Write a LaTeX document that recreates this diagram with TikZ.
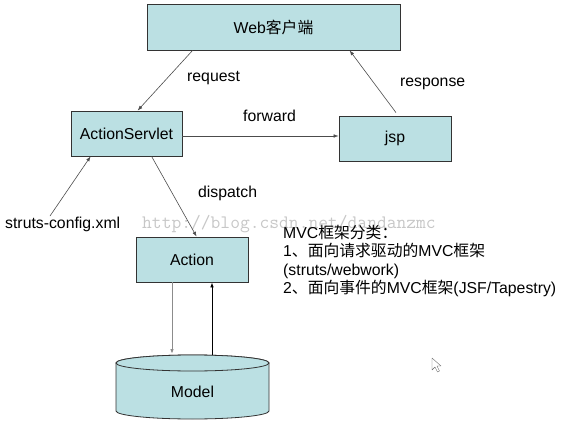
\documentclass[tikz,border=0pt]{standalone}
\usepackage{fontspec}
\setmainfont{Liberation Sans}
\newfontfamily\cjk{Noto Sans CJK SC}
\usetikzlibrary{arrows.meta,calc}
\definecolor{boxfill}{HTML}{BBE0E3}
\begin{document}
\begin{tikzpicture}[x=1pt,y=-1pt,
  font=\fontsize{15.8}{18.3}\selectfont,
  box/.style={draw=black!80,line width=0.8pt,fill=boxfill,inner sep=0pt},
  arr/.style={draw=black!70,line width=0.6pt,-{Latex[length=5pt,width=3.6pt]}},
  lbl/.style={inner sep=0pt,anchor=base west}]
\useasboundingbox (0,0) rectangle (563,423);

% boxes
\node[box,minimum width=253pt,minimum height=46pt] (web) at (273.5,27) {Web{\cjk 客户端}};
\node[box,minimum width=111pt,minimum height=45pt] (servlet) at (126.5,133.5) {ActionServlet};
\node[box,minimum width=112pt,minimum height=45pt] (jsp) at (395,138.5) {jsp};
\node[box,minimum width=112pt,minimum height=45pt] (action) at (192,259.5) {Action};

% model cylinder
\path[box] (116,363) -- (116,411)
  arc[start angle=180,end angle=360,x radius=76.5pt,y radius=8pt]
  -- (269,363)
  arc[start angle=0,end angle=180,x radius=76.5pt,y radius=8pt] -- cycle;
\draw[box] (192.5,363) ellipse[x radius=76.5pt,y radius=8pt];
\node[inner sep=0pt] (model) at (192.5,392) {Model};
\coordinate (mA) at (172,354);
\coordinate (mB) at (212,355);

% labels
\node[lbl] (lreq) at (187,81.5) {request};
\node[lbl] (lresp) at (400,86.5) {response};
\node[lbl] (lfwd) at (243,121.5) {forward};
\node[lbl] (ldisp) at (198,197.5) {dispatch};
\node[lbl] (struts) at (5,228.5) {struts-config.xml};
\coordinate (sc) at (50,216);

% watermark
\node[lbl,text=black!22,font=\ttfamily\fontsize{19}{19}\selectfont] (wm) at (142,228.5) {http://blog.csdn.net/dandanzmc};

% MVC text
\node[lbl] (mvc1) at (283,238.5) {MVC{\cjk 框架分类：}};
\node[lbl] (mvc2) at (283,256.8) {1{\cjk 、面向请求驱动的}MVC{\cjk 框架}};
\node[lbl] (mvc3) at (283,275.1) {(struts/webwork)};
\node[lbl] (mvc4) at (283,293.4) {2{\cjk 、面向事件的}MVC{\cjk 框架}(JSF/Tapestry)};

% connectors
\draw[arr] ($(web.south west)+(46,0)$) -- ($(servlet.north west)+(67,0)$);
\draw[arr] ($(jsp.north)+(1,-3)$) -- ($(web.south west)+(203,0)$);
\draw[arr] ($(servlet.east)+(0,2.5)$) -- ($(jsp.west)+(0,-2.5)$);
\draw[arr] (sc) -- ($(servlet.south west)+(20,0)$);
\draw[arr] ($(servlet.south west)+(81,0)$) -- ($(action.north west)+(61,0)$);
\draw[arr,draw=black!45,line width=1pt] (action.south -| mA) -- (mA);
\draw[arr,draw=black,line width=0.8pt] (mB) -- (action.south -| mB);

% mouse cursor
\draw[black!60,fill=white,line width=0.4pt,line join=round] (432,358) -- ++(0,12) -- ++(3,-3) -- ++(2.5,5) -- ++(2,-1) -- ++(-2.5,-5) -- ++(4,0) -- cycle;
\end{tikzpicture}
\end{document}
